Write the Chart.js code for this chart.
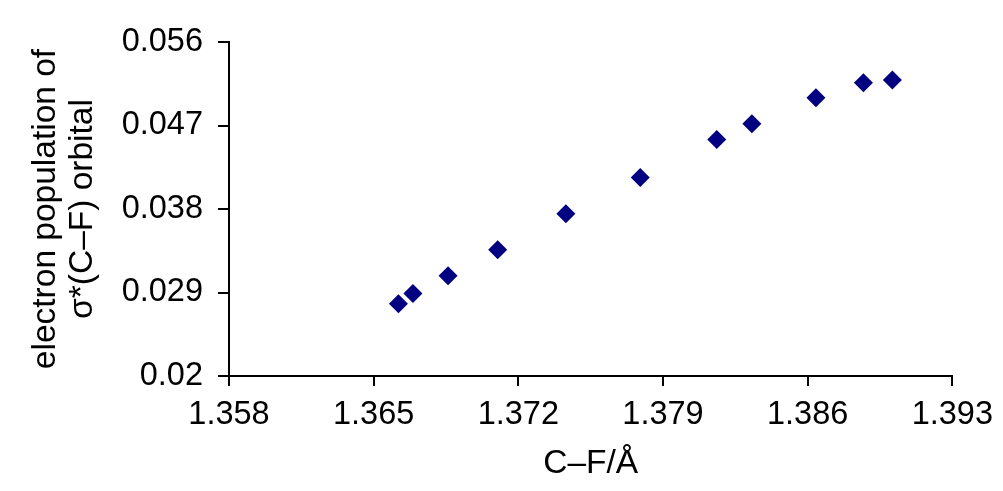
<!DOCTYPE html>
<html>
<head>
<meta charset="utf-8">
<script src="https://cdn.jsdelivr.net/npm/chart.js@4.4.1/dist/chart.umd.min.js"></script>
<style>
  html, body { margin: 0; padding: 0; background: #fff; }
  #wrap { width: 1003px; height: 491px; }
</style>
</head>
<body>
<div id="wrap"><canvas id="myChart" width="1003" height="491"></canvas></div>
<script>
// C-F bond length (Å) vs electron population of sigma*(C-F)
const bondLength = [1.3662, 1.3669, 1.3686, 1.3710, 1.3743, 1.3779, 1.3816, 1.3833, 1.3864, 1.3887, 1.3901];
const sigmaPop = [0.0278, 0.0289, 0.0308, 0.0336, 0.0375, 0.0414, 0.0455, 0.0472, 0.0500, 0.0516, 0.0519];

const xTicks = [1.358, 1.365, 1.372, 1.379, 1.386, 1.393];
const yTicks = [0.02, 0.029, 0.038, 0.047, 0.056];

const xTitle = 'C\u2013F/\u00C5';
const yTitle = ['electron population of', '\u03C3*(C\u2013F) orbital'];

document.addEventListener('DOMContentLoaded', function () {
    let punts = bondLength.map((x, i) => ({ x: x, y: sigmaPop[i] }));
    let font = 'Liberation Sans, Arial, Helvetica, sans-serif';

    let ctx = document.getElementById('myChart').getContext('2d');
    let myChart = new Chart(ctx, {
        type: 'scatter',
        data: {
            datasets: [{
                data: punts,
                pointStyle: 'rectRot',
                pointRadius: 9.5,
                pointBorderWidth: 0,
                backgroundColor: '#000080',
                borderColor: '#000080'
            }]
        },
        options: {
            responsive: false,
            animation: false,
            devicePixelRatio: 1,
            layout: { padding: { top: 42, right: 48, left: 0, bottom: 0 } },
            plugins: { legend: { display: false }, tooltip: { enabled: false } },
            scales: {
                x: {
                    type: 'linear',
                    min: 1.358,
                    max: 1.393,
                    afterBuildTicks: function (scale) { scale.ticks = xTicks.map(v => ({ value: v })); },
                    afterFit: function (scale) { scale.height = 115; },
                    grid: { drawOnChartArea: false, drawTicks: true, tickLength: 10, color: '#000', lineWidth: 2 },
                    border: { display: true, color: '#000', width: 2 },
                    ticks: {
                        color: '#000',
                        padding: 10,
                        maxRotation: 0,
                        autoSkip: false,
                        font: { family: font, size: 32.5 },
                        callback: function (value) { return String(value); }
                    },
                    title: {
                        display: true,
                        text: xTitle,
                        color: '#000',
                        font: { family: font, size: 33.5 },
                        padding: { top: 0, bottom: 7 }
                    }
                },
                y: {
                    type: 'linear',
                    min: 0.02,
                    max: 0.056,
                    afterBuildTicks: function (scale) { scale.ticks = yTicks.map(v => ({ value: v })); },
                    afterFit: function (scale) { scale.width = 229; },
                    grid: { drawOnChartArea: false, drawTicks: true, tickLength: 11, color: '#000', lineWidth: 2 },
                    border: { display: true, color: '#000', width: 2 },
                    ticks: {
                        color: '#000',
                        padding: 15,
                        autoSkip: false,
                        font: { family: font, size: 32.5 },
                        callback: function (value) { return String(value); }
                    },
                    title: {
                        display: true,
                        text: yTitle,
                        color: '#000',
                        font: { family: font, size: 33.5, lineHeight: 1.1 },
                        padding: { top: 27, bottom: 0 }
                    }
                }
            }
        }
    });
});
</script>
</body>
</html>
